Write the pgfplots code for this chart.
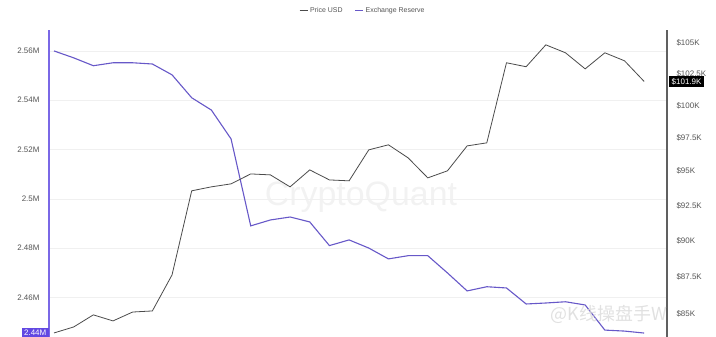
\documentclass[border=0pt]{standalone}
\usepackage{pgfplots}
\pgfplotsset{compat=1.18}
\usepackage{fontspec}
\setmainfont{Liberation Sans}
\newfontfamily\cjk{Noto Sans CJK SC}
\definecolor{resv}{RGB}{103,88,200}
\definecolor{resaxis}{RGB}{122,104,230}
\definecolor{resbox}{RGB}{98,72,226}
\definecolor{pricec}{RGB}{75,75,75}
\definecolor{ticktext}{RGB}{85,85,85}

\pgfplotstableread{
i reserve
0 2.5600
1 2.5572
2 2.5540
3 2.5552
4 2.5552
5 2.5547
6 2.5503
7 2.5410
8 2.5360
9 2.5243
10 2.4890
11 2.4914
12 2.4926
13 2.4906
14 2.4810
15 2.4833
16 2.4800
17 2.4756
18 2.4769
19 2.4769
20 2.4699
21 2.4626
22 2.4643
23 2.4638
24 2.4573
25 2.4577
26 2.4582
27 2.4569
28 2.4467
29 2.4463
30 2.4455
}\reservetable

\pgfplotstableread{
i price
0 83.73
1 84.12
2 84.92
3 84.52
4 85.11
5 85.18
6 87.61
7 93.56
8 93.85
9 94.07
10 94.80
11 94.73
12 93.85
13 95.10
14 94.36
15 94.29
16 96.60
17 96.98
18 96.00
19 94.51
20 95.03
21 96.90
22 97.13
23 103.40
24 103.08
25 104.86
26 104.21
27 102.91
28 104.21
29 103.56
30 101.90
}\pricetable

\begin{document}
\begin{tikzpicture}
\path[use as bounding box] (-49bp,0bp) rectangle (667bp,337bp);
\node[font=\fontsize{34}{36}\selectfont, text=gray!10] at (312bp,140bp) {CryptoQuant};

\begin{axis}[
  at={(0bp,0bp)}, anchor=south west, scale only axis,
  width=618bp, height=307bp,
  xmin=-0.254, xmax=31.16, ymin=2.4439, ymax=2.5685,
  axis x line=none,
  axis y line*=left,
  y axis line style={resaxis, line width=1.5bp, -},
  ytick={2.46,2.48,2.5,2.52,2.54,2.56},
  yticklabels={2.46M,2.48M,2.5M,2.52M,2.54M,2.56M},
  yticklabel style={font=\fontsize{8}{9}\selectfont, text=ticktext, xshift=-6bp},
  major tick length=0pt,
  ymajorgrids, grid style={gray!12, line width=0.5bp},
  scaled y ticks=false,
  clip=false,
]
\addplot[resv, line width=1.1bp, mark=none] table[x=i, y=reserve] {\reservetable};
\node[fill=resbox, text=white, inner sep=2.5bp, anchor=east,
      font=\fontsize{8}{9}\selectfont] at (axis cs:-0.254,2.4455) {2.44M};
\end{axis}

\begin{axis}[
  at={(0bp,0bp)}, anchor=south west, scale only axis,
  width=618bp, height=307bp,
  xmin=-0.254, xmax=31.16, ymode=log, ymin=83.47, ymax=106.09,
  axis x line=none,
  axis y line*=right,
  y axis line style={gray!75!black, line width=1.5bp, -},
  ytick={85,87.5,90,92.5,95,97.5,100,102.5,105},
  yticklabels={\$85K,\$87.5K,\$90K,\$92.5K,\$95K,\$97.5K,\$100K,\$102.5K,\$105K},
  yticklabel style={font=\fontsize{8}{9}\selectfont, text=ticktext, xshift=6bp},
  major tick length=0pt,
  clip=false,
  legend style={at={(0.508,1.062)}, anchor=center, draw=none, fill=none,
     legend columns=-1, font=\fontsize{7}{8}\selectfont, text=ticktext,
     /tikz/every even column/.append style={column sep=10bp}},
  legend image code/.code={\draw[#1] (0bp,0bp) -- (8bp,0bp);},
]
\addplot[pricec, line width=0.8bp, mark=none] table[x=i, y=price] {\pricetable};
\addlegendentry{Price USD}
\addlegendimage{resv, line width=1.1bp}
\addlegendentry{Exchange Reserve}
\node[fill=black, text=white, inner sep=2.5bp, anchor=west, xshift=2bp,
      font=\fontsize{8}{9}\selectfont] at (axis cs:31.16,101.9) {\$101.9K};
\end{axis}

\node[font=\cjk\fontsize{18}{20}\selectfont, text=gray!30, opacity=0.8] at (560bp,23bp) {@K线操盘手W};
\end{tikzpicture}
\end{document}
